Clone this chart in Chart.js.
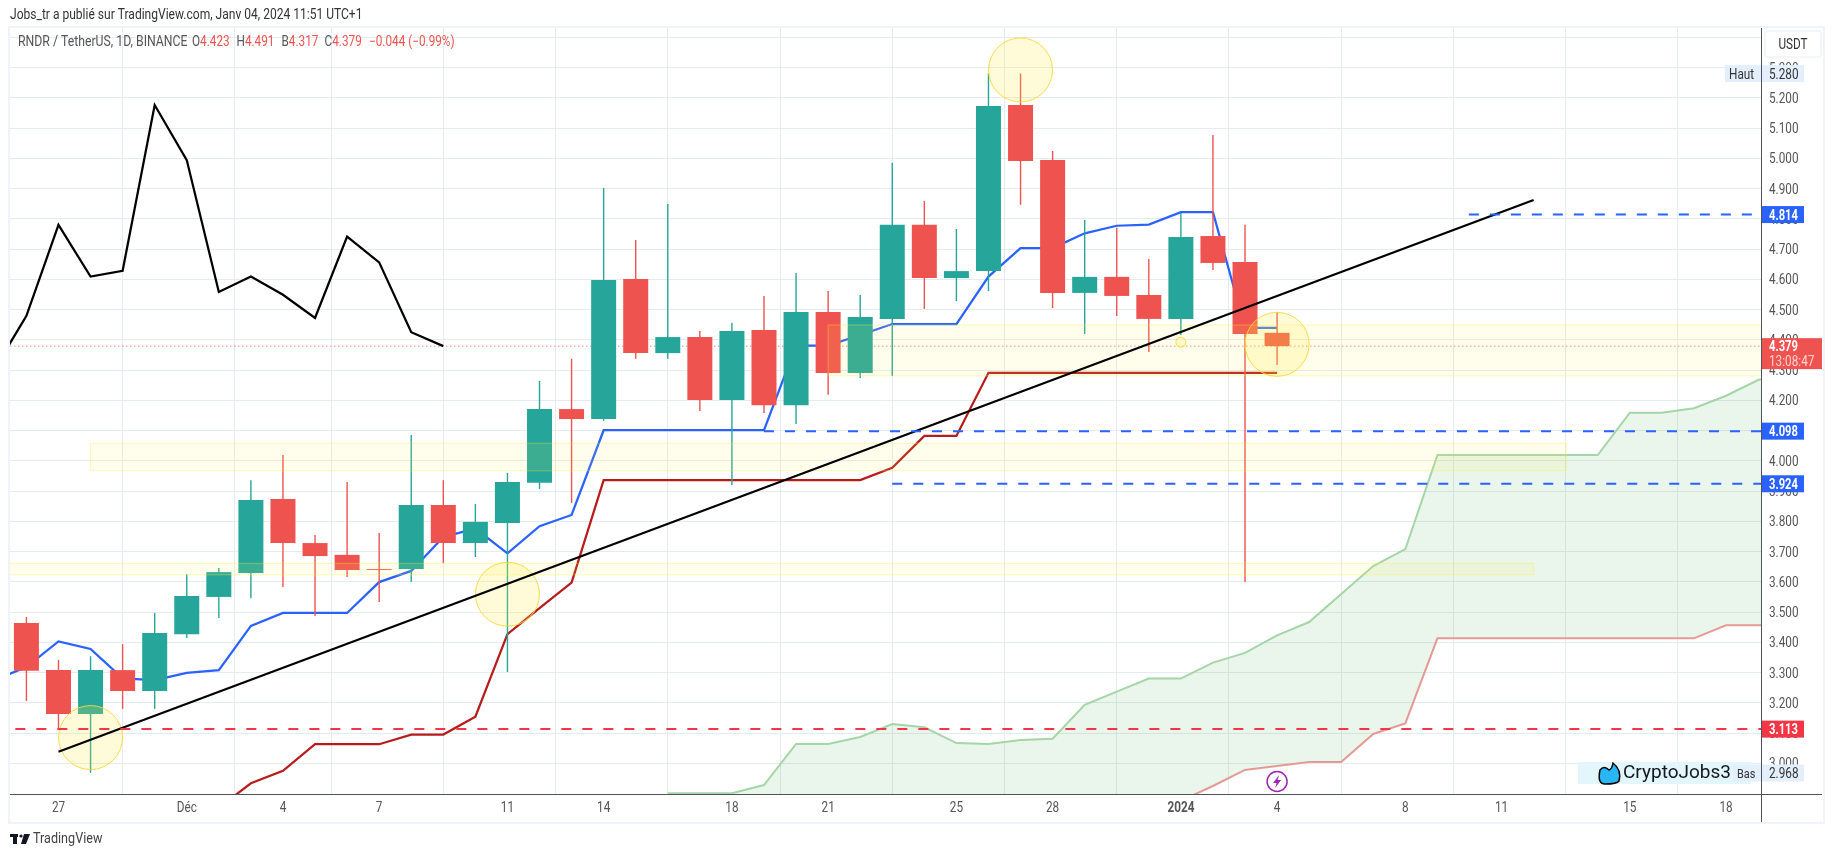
<!DOCTYPE html>
<html>
<head>
<meta charset="utf-8">
<title>RNDR / TetherUS</title>
<script src="https://cdn.jsdelivr.net/npm/chart.js@4"></script>
<style>
  html, body { margin: 0; padding: 0; background: #fff; }
  canvas { display: block; }
</style>
</head>
<body>
<canvas id="myChart" width="1835" height="857"></canvas>
<script>
// day numbers count from Nov 27 = 0
const candleDates = ['Nov 26','Nov 27','Nov 28','Nov 29','Nov 30','Dec 1','Dec 2','Dec 3','Dec 4','Dec 5','Dec 6','Dec 7','Dec 8','Dec 9','Dec 10','Dec 11','Dec 12','Dec 13','Dec 14','Dec 15','Dec 16','Dec 17','Dec 18','Dec 19','Dec 20','Dec 21','Dec 22','Dec 23','Dec 24','Dec 25','Dec 26','Dec 27','Dec 28','Dec 29','Dec 30','Dec 31','Jan 1','Jan 2','Jan 3','Jan 4'];
const opens = [3.464,3.308,3.163,3.308,3.239,3.427,3.550,3.629,3.874,3.728,3.689,3.642,3.642,3.854,3.728,3.794,3.927,4.171,4.138,4.601,4.356,4.409,4.201,4.432,4.184,4.492,4.290,4.469,4.780,4.604,4.627,5.176,4.994,4.555,4.608,4.548,4.469,4.743,4.657,4.423];
const highs = [3.484,3.342,3.354,3.394,3.497,3.625,3.646,3.936,4.019,3.755,3.930,3.761,4.085,3.936,3.857,3.960,4.264,4.337,4.902,4.730,4.849,4.429,4.456,4.545,4.621,4.561,4.548,4.985,4.859,4.766,5.280,5.280,5.024,4.796,4.770,4.667,4.819,5.077,4.780,4.491];
const lows = [3.206,3.110,2.969,3.180,3.180,3.414,3.480,3.546,3.583,3.487,3.616,3.533,3.599,3.662,3.682,3.302,3.907,3.861,4.132,4.337,4.337,4.165,3.920,4.158,4.122,4.218,4.274,4.280,4.502,4.528,4.561,4.846,4.505,4.419,4.479,4.360,4.416,4.631,3.599,4.317];
const closes = [3.306,3.163,3.308,3.239,3.431,3.553,3.632,3.870,3.728,3.685,3.639,3.639,3.854,3.728,3.798,3.930,4.171,4.138,4.598,4.356,4.409,4.201,4.429,4.184,4.492,4.290,4.475,4.780,4.604,4.627,5.173,4.991,4.555,4.608,4.545,4.469,4.740,4.654,4.419,4.379];
const candleStart = -1;

const tenkan = [3.275,3.318,3.403,3.378,3.281,3.275,3.299,3.308,3.454,3.497,3.497,3.497,3.599,3.636,3.748,3.776,3.694,3.784,3.821,4.101,4.101,4.101,4.101,4.101,4.101,4.381,4.381,4.416,4.452,4.452,4.452,4.609,4.703,4.703,4.752,4.777,4.781,4.822,4.822,4.439,4.439];
const tenkanStart = -2;
const kijun = [2.853,2.934,2.975,3.063,3.063,3.063,3.095,3.095,3.154,3.427,3.513,3.597,3.936,3.936,3.936,3.936,3.936,3.936,3.936,3.936,3.936,3.977,4.082,4.082,4.291,4.291,4.291,4.291,4.291,4.291,4.291,4.291,4.291,4.291];
const kijunStart = 5;
const spanA = [2.901,2.901,2.901,2.928,3.064,3.064,3.087,3.130,3.119,3.067,3.064,3.077,3.081,3.193,3.237,3.280,3.280,3.333,3.365,3.423,3.467,3.560,3.652,3.708,4.019,4.019,4.019,4.019,4.019,4.019,4.159,4.159,4.174,4.215,4.267,4.293];
const spanB = [2.80,2.80,2.80,2.80,2.80,2.80,2.80,2.80,2.80,2.80,2.80,2.80,2.80,2.80,2.80,2.80,2.876,2.925,2.978,2.991,3.004,3.004,3.097,3.132,3.413,3.413,3.413,3.413,3.413,3.413,3.413,3.413,3.413,3.456,3.456,3.456];
const spanStart = 19;
const patternLine = [4.302,4.479,4.780,4.609,4.628,5.176,4.994,4.558,4.609,4.549,4.472,4.741,4.656,4.425,4.379];
const patternStart = -2;

const trendDays = [0, 46];
const trendValues = [3.038, 4.862];
const lastPrice = 4.379;

const levelValues = [3.113, 4.098, 3.924, 4.814];
const levelStarts = [-2, 22, 26, 43.98];
const levelColors = ['#f23645', '#2962ff', '#2962ff', '#2962ff'];

const zoneTops = [4.058, 3.661, 4.449];
const zoneBottoms = [3.967, 3.623, 4.281];
const zoneStarts = [1, -2, 24];
const zoneEnds = [47.02, 46, 54];

const circleDays = [1, 14, 30, 38, 35];
const circleValues = [3.085, 3.559, 5.292, 4.385, 4.392];
const circleSizes = [32, 32, 32, 32, 5];

const xTickDays = [0, 4, 7, 10, 14, 17, 21, 24, 28, 31, 35, 38, 42, 45, 49, 52];
const xTickLabels = ['27', 'Déc', '4', '7', '11', '14', '18', '21', '25', '28', '2024', '4', '8', '11', '15', '18'];
const yTicks = [3.0,3.1,3.2,3.3,3.4,3.5,3.6,3.7,3.8,3.9,4.0,4.1,4.2,4.3,4.4,4.5,4.6,4.7,4.8,4.9,5.0,5.1,5.2,5.3,5.4];

const up = '#26a69a', down = '#ef5350';
const fontName = 'Roboto, sans-serif';
const gridColor = '#e4ebf1';
const axisColor = '#50535e';

function series(start, values) {
    return values.map(function (v, i) { return { x: start + i, y: v }; });
}
function lineSet(data, color, width, order, extra) {
    return Object.assign({
        type: 'line', data: data, borderColor: color, borderWidth: width,
        pointRadius: 0, tension: 0, order: order, fill: false
    }, extra || {});
}

// the reference text is narrower than any installed font, so it is squeezed sideways
function squeezed(c, text, x, y, sx) {
    c.save();
    c.translate(x, y + 1);
    c.scale(sx || 0.84, 1);
    c.fillText(text, 0, 0);
    c.restore();
}

const candleColors = opens.map(function (o, i) { return closes[i] >= o ? up : down; });

const overlays = {
    id: 'overlays',
    afterDatasetDraw: function (chart, args) {
        if (chart.data.datasets[args.index].label !== 'bodies') return;
        const c = chart.ctx, x = chart.scales.x, y = chart.scales.y;
        c.save();
        c.beginPath();
        c.rect(chart.chartArea.left, chart.chartArea.top, chart.chartArea.width, chart.chartArea.height);
        c.clip();
        zoneTops.forEach(function (top, i) {
            const px = x.getPixelForValue(zoneStarts[i]);
            const py = y.getPixelForValue(top);
            const w = x.getPixelForValue(zoneEnds[i]) - px;
            const h = y.getPixelForValue(zoneBottoms[i]) - py;
            c.fillStyle = 'rgba(255,235,59,0.1)';
            c.fillRect(px, py, w, h);
            c.strokeStyle = 'rgba(255,235,59,0.35)';
            c.lineWidth = 1;
            c.strokeRect(px, py, w, h);
        });
        c.restore();
    },
    afterDraw: function (chart) {
        const c = chart.ctx, y = chart.scales.y, x = chart.scales.x, a = chart.chartArea;
        c.save();
        // frame and axis lines
        c.fillStyle = '#f0f3fa';
        c.fillRect(8, 26, 1817, 2);
        c.fillRect(8, 822, 1817, 2);
        c.fillRect(8, 26, 2, 798);
        c.fillRect(1823, 26, 2, 798);
        c.fillStyle = axisColor;
        c.fillRect(10, a.bottom, 1812, 1);
        c.fillRect(a.right, 28, 1, 794);

        c.textBaseline = 'middle';
        // axis labels
        c.fillStyle = '#555';
        c.textAlign = 'left';
        c.font = '14px ' + fontName;
        yTicks.filter(function (v) { return v < 5.35; }).forEach(function (v) {
            squeezed(c, v.toFixed(3), a.right + 8, y.getPixelForValue(v) + 0.5);
        });
        c.textAlign = 'center';
        xTickDays.forEach(function (d, i) {
            c.font = (d === 35 ? 'bold ' : '') + '14px ' + fontName;
            squeezed(c, xTickLabels[i], x.getPixelForValue(d), a.bottom + 13);
        });

        // text on top of the pane
        c.textAlign = 'left';
        c.fillStyle = '#333';
        c.font = '14px ' + fontName;
        squeezed(c, 'Jobs_tr a publié sur TradingView.com, Janv 04, 2024 11:51 UTC+1', 10, 14, 0.86);
        c.fillStyle = '#555';
        squeezed(c, 'RNDR / TetherUS, 1D, BINANCE', 18, 41, 0.875);
        [['O', '4.423', 192], ['H', '4.491', 236.5], ['B', '4.317', 281.5], ['C', '4.379', 324.6]].forEach(function (p) {
            c.fillStyle = '#555';
            squeezed(c, p[0], p[2], 41);
            c.fillStyle = down;
            squeezed(c, p[1], p[2] + c.measureText(p[0]).width * 0.84, 41);
        });
        squeezed(c, '−0.044 (−0.99%)', 369, 41);

        // lightning marker
        const lx = x.getPixelForValue(38);
        c.strokeStyle = '#9c27b0';
        c.lineWidth = 1.5;
        c.beginPath();
        c.arc(lx, 781.5, 10, 0, Math.PI * 2);
        c.stroke();
        c.fillStyle = '#9c27b0';
        c.beginPath();
        c.moveTo(lx + 2, 775); c.lineTo(lx - 4, 783); c.lineTo(lx - 0.5, 783);
        c.lineTo(lx - 2, 788); c.lineTo(lx + 4, 780); c.lineTo(lx + 0.5, 780);
        c.closePath();
        c.fill();

        // signature with the whale
        c.fillStyle = '#e3f6fb';
        c.fillRect(1578, 762, 173, 22);
        c.fillStyle = '#29b6f6';
        c.strokeStyle = '#000';
        c.lineWidth = 1.5;
        c.beginPath();
        c.moveTo(1600, 770);
        c.quadraticCurveTo(1604, 765, 1609, 770);
        c.quadraticCurveTo(1612, 769, 1613, 763);
        c.quadraticCurveTo(1622, 770, 1619, 781);
        c.quadraticCurveTo(1617, 784, 1605, 784);
        c.quadraticCurveTo(1597, 784, 1600, 770);
        c.closePath();
        c.fill();
        c.stroke();
        c.fillStyle = '#131722';
        c.font = '19px ' + fontName;
        squeezed(c, 'CryptoJobs3', 1623, 772, 108 / c.measureText('CryptoJobs3').width);

        // price tags on the scale
        function tag(value, color, textColor, bold) {
            const py = y.getPixelForValue(value);
            c.fillStyle = color;
            c.fillRect(a.right + 1, py - 8.5, 42, 17);
            c.fillStyle = textColor;
            c.font = (bold ? 'bold ' : '') + '14px ' + fontName;
            c.textAlign = 'left';
            squeezed(c, value.toFixed(3), a.right + 8, py + 0.5, bold ? 0.8 : 0.84);
        }
        levelValues.forEach(function (v, i) { tag(v, levelColors[i], '#fff', true); });

        // high and low tags
        const hy = y.getPixelForValue(5.28), by = y.getPixelForValue(2.968);
        c.fillStyle = '#e3effd';
        c.fillRect(1725, hy - 8.5, 36, 17);
        c.fillRect(1733, by - 8.5, 28, 17);
        tag(5.28, '#e3effd', '#333', false);
        tag(2.968, '#e3effd', '#333', false);
        c.fillStyle = '#333';
        squeezed(c, 'Haut', 1729, hy + 0.5);
        c.font = '13px ' + fontName;
        squeezed(c, 'Bas', 1737, by + 0.5);

        // last price tag
        const ly = y.getPixelForValue(lastPrice);
        c.fillStyle = down;
        c.fillRect(a.right + 1, ly - 8, 60, 31);
        c.fillStyle = '#fff';
        c.font = 'bold 14px ' + fontName;
        squeezed(c, lastPrice.toFixed(3), a.right + 8, ly + 0.5, 0.8);
        c.fillStyle = 'rgba(255,255,255,0.75)';
        c.font = '14px ' + fontName;
        squeezed(c, '13:08:47', a.right + 8, ly + 15);

        // currency button
        c.fillStyle = '#fff';
        c.strokeStyle = '#f0f3fa';
        c.lineWidth = 1.5;
        c.beginPath();
        c.roundRect(1765, 31, 56, 26, 3);
        c.fill();
        c.stroke();
        c.fillStyle = '#333';
        c.font = '14px ' + fontName;
        c.textAlign = 'center';
        squeezed(c, 'USDT', 1793, 44);

        // logo line at the bottom
        c.fillStyle = '#131722';
        c.fillRect(10, 834, 8, 3);
        c.fillRect(13, 834, 4, 10);
        c.beginPath();
        c.arc(21, 836, 1.6, 0, Math.PI * 2);
        c.fill();
        c.beginPath();
        c.moveTo(24, 834); c.lineTo(30, 834); c.lineTo(26, 844); c.lineTo(21, 844);
        c.closePath();
        c.fill();
        c.textAlign = 'left';
        c.fillStyle = '#444';
        c.font = '15px ' + fontName;
        squeezed(c, 'TradingView', 33, 838);
        c.restore();
    }
};

const ctx = document.getElementById('myChart').getContext('2d');
const myChart = new Chart(ctx, {
    type: 'bar',
    data: {
        datasets: [
            lineSet(series(spanStart, spanA), '#a5d6a7', 2, 11, { fill: { target: 1, above: 'rgba(67,160,71,0.11)', below: 'rgba(67,160,71,0.11)' } }),
            lineSet(series(spanStart, spanB), '#ef9a9a', 2, 11),
            lineSet([{ x: -2, y: lastPrice }, { x: 54, y: lastPrice }], down, 1, 10, { borderDash: [1, 3] }),
            lineSet(series(tenkanStart, tenkan), '#2962ff', 2.25, 9),
            lineSet(series(kijunStart, kijun), '#b71c1c', 2.25, 8),
            {
                label: 'wicks',
                data: highs.map(function (h, i) { return { x: candleStart + i, y: [lows[i], h] }; }),
                backgroundColor: candleColors,
                barThickness: 1.4,
                inflateAmount: 0,
                grouped: false,
                order: 7
            },
            {
                label: 'bodies',
                data: opens.map(function (o, i) { return { x: candleStart + i, y: [o, closes[i]] }; }),
                backgroundColor: candleColors,
                barThickness: 25,
                inflateAmount: 0,
                grouped: false,
                order: 6
            },
            {
                type: 'line',
                data: circleDays.map(function (d, i) { return { x: d, y: circleValues[i] }; }),
                showLine: false,
                pointRadius: circleSizes,
                pointBackgroundColor: 'rgba(255,235,59,0.2)',
                pointBorderColor: 'rgba(253,216,53,0.9)',
                pointBorderWidth: 1,
                order: 5
            },
            lineSet(series(patternStart, patternLine), '#000', 2.25, 4),
            lineSet(trendDays.map(function (d, i) { return { x: d, y: trendValues[i] }; }), '#000', 2.25, 3)
        ].concat(levelValues.map(function (v, i) {
            return lineSet([{ x: levelStarts[i], y: v }, { x: 54, y: v }], levelColors[i], 2, 2, { borderDash: [10, 11] });
        }))
    },
    options: {
        responsive: false,
        animation: false,
        events: [],
        layout: { autoPadding: false, padding: { left: 10, top: 27, right: 13, bottom: 35 } },
        plugins: { legend: { display: false }, title: { display: false }, tooltip: { enabled: false } },
        scales: {
            x: {
                type: 'linear',
                offset: false,
                min: -1.512,
                max: 53.09,
                grid: { color: gridColor, drawTicks: false },
                border: { display: false },
                afterBuildTicks: function (axis) {
                    axis.ticks = xTickDays.map(function (d) { return { value: d }; });
                },
                afterFit: function (axis) { axis.height = 28; },
                ticks: { display: false }
            },
            y: {
                position: 'right',
                min: 2.8985,
                max: 5.434,
                grid: { color: gridColor, drawTicks: false },
                border: { display: false },
                afterBuildTicks: function (axis) {
                    axis.ticks = yTicks.map(function (v) { return { value: v }; });
                },
                afterFit: function (axis) { axis.width = 61; },
                ticks: { display: false }
            }
        }
    },
    plugins: [overlays]
});
</script>
</body>
</html>
